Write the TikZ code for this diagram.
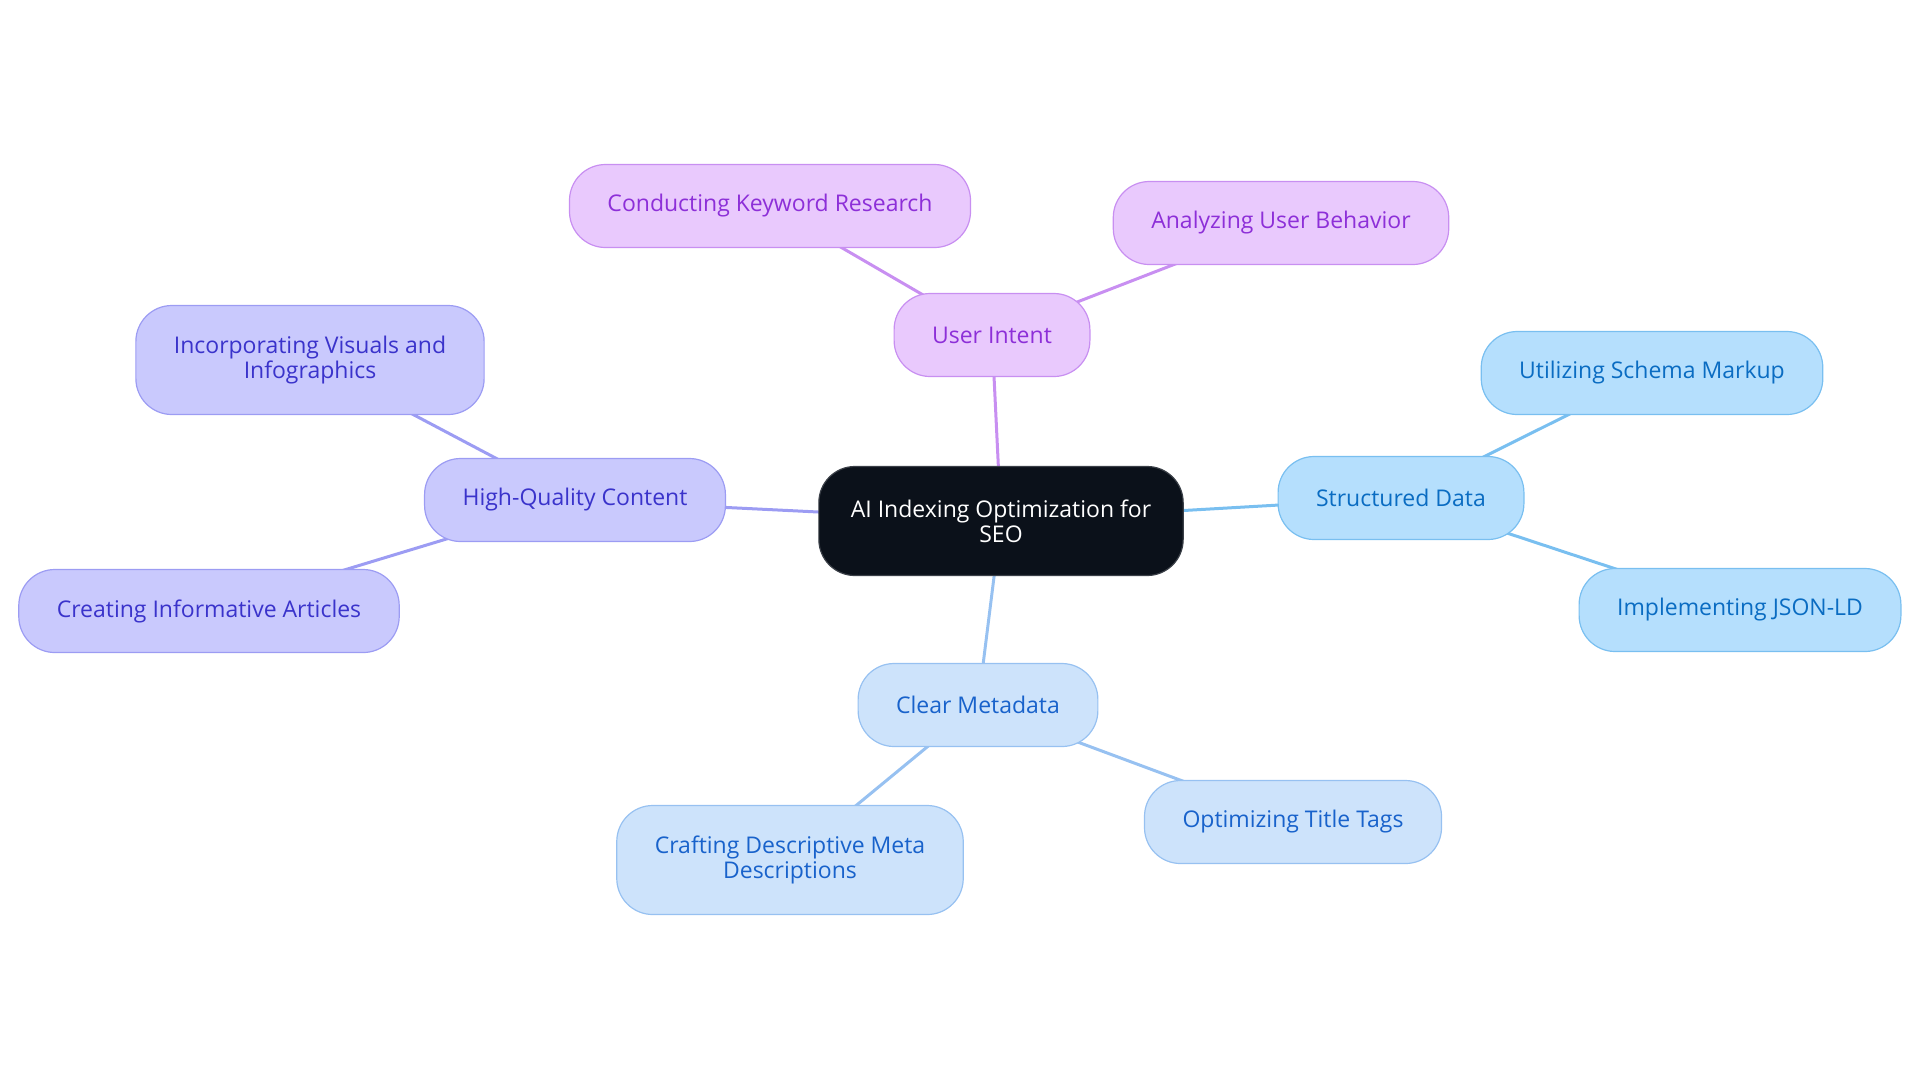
\documentclass[tikz,border=0pt]{standalone}
\usepackage{fontspec}
\setmainfont{Open Sans}
\usetikzlibrary{backgrounds}

\definecolor{rootfill}{HTML}{0B111A}
\definecolor{rootline}{HTML}{3A3F47}
\definecolor{intentfill}{HTML}{E9C9FD}
\definecolor{intentline}{HTML}{C88FF1}
\definecolor{intenttext}{HTML}{8D2FD8}
\definecolor{qualityfill}{HTML}{C9C9FD}
\definecolor{qualityline}{HTML}{9C9CF3}
\definecolor{qualitytext}{HTML}{3A33CB}
\definecolor{metafill}{HTML}{CDE3FB}
\definecolor{metaline}{HTML}{97C1F1}
\definecolor{metatext}{HTML}{1862CB}
\definecolor{structfill}{HTML}{B5DFFD}
\definecolor{structline}{HTML}{79BFF0}
\definecolor{structtext}{HTML}{0A6CC2}

\begin{document}
\begin{tikzpicture}[x=0.5pt,y=-0.5pt,
        every node/.style={font=\fontsize{11.5}{12.3}\selectfont, align=center,
            rounded corners=18pt, inner xsep=19pt, minimum height=41.5pt, line width=0.6pt},
        twolines/.style={minimum height=54.5pt},
        rootbox/.style={draw=rootline, fill=rootfill, text=white, twolines, inner xsep=16pt},
        intentbox/.style={draw=intentline, fill=intentfill, text=intenttext},
        qualitybox/.style={draw=qualityline, fill=qualityfill, text=qualitytext},
        metabox/.style={draw=metaline, fill=metafill, text=metatext},
        structbox/.style={draw=structline, fill=structfill, text=structtext},
        link/.style={line width=1.5pt}
    ]
        \useasboundingbox (0,0) rectangle (1920,1083);

        \node[rootbox] (root) at (1001,521) {AI Indexing Optimization for\\SEO};

        \node[intentbox] (intent) at (992,335) {User Intent};
        \node[intentbox] (keyword) at (770,206) {Conducting Keyword Research};
        \node[intentbox] (behavior) at (1281,223) {Analyzing User Behavior};

        \node[qualitybox] (quality) at (575,500) {High-Quality Content};
        \node[qualitybox, twolines] (visuals) at (310,360) {Incorporating Visuals and\\Infographics};
        \node[qualitybox] (articles) at (209,611) {Creating Informative Articles};

        \node[structbox] (structured) at (1401,498) {Structured Data};
        \node[structbox] (schema) at (1652,373) {Utilizing Schema Markup};
        \node[structbox] (jsonld) at (1740,610) {Implementing JSON-LD};

        \node[metabox] (metadata) at (978,705) {Clear Metadata};
        \node[metabox, twolines] (metadesc) at (790,860) {Crafting Descriptive Meta\\Descriptions};
        \node[metabox] (titletags) at (1293,822) {Optimizing Title Tags};

        % links run centre to centre, behind the boxes
        \begin{scope}[on background layer]
            \draw[link, intentline] (root.center) -- (intent.center);
            \draw[link, intentline] (intent.center) -- (keyword.center);
            \draw[link, intentline] (intent.center) -- (behavior.center);
            \draw[link, qualityline] (root.center) -- (quality.center);
            \draw[link, qualityline] (quality.center) -- (visuals.center);
            \draw[link, qualityline] (quality.center) -- (articles.center);
            \draw[link, structline] (root.center) -- (structured.center);
            \draw[link, structline] (structured.center) -- (schema.center);
            \draw[link, structline] (structured.center) -- (jsonld.center);
            \draw[link, metaline] (root.center) -- (metadata.center);
            \draw[link, metaline] (metadata.center) -- (metadesc.center);
            \draw[link, metaline] (metadata.center) -- (titletags.center);
        \end{scope}
    \end{tikzpicture}
\end{document}
